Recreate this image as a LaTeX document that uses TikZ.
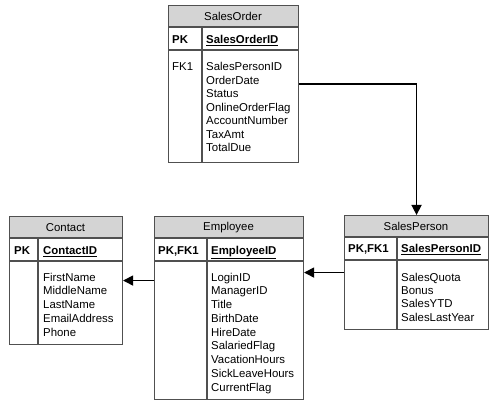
\documentclass[tikz,border=0pt]{standalone}
\usepackage{fontspec}
\setmainfont{Liberation Sans}
\usetikzlibrary{arrows.meta}
\definecolor{bordergray}{RGB}{80,80,80}
\definecolor{hdrgray}{RGB}{212,212,212}
\tikzset{
  box/.style={draw=bordergray, line width=1.1pt, rectangle, inner sep=0pt},
  hdrfill/.style={fill=hdrgray},
  rule/.style={draw=bordergray, line width=1.1pt},
  title/.style={inner sep=0pt, font=\fontsize{11.4}{13.6}\selectfont},
  txt/.style={inner sep=0pt, anchor=base west, font=\fontsize{11.4}{13.6}\selectfont},
  btxt/.style={inner sep=0pt, anchor=base west, font=\fontsize{11.4}{13.6}\selectfont\bfseries},
  conn/.style={draw=black, line width=1.5pt, -{Triangle[length=10pt,width=10pt]}}
}
\begin{document}
\begin{tikzpicture}[x=1pt,y=-1pt]
\useasboundingbox (0,0) rectangle (496,401);
% ---------- SalesOrder ----------
\fill[hdrfill] (168,5) rectangle (298,27);
\node[box, minimum width=130pt, minimum height=157pt, anchor=north west] (so) at (168,5) {};
\draw[rule] (168,27) -- (298,27);
\draw[rule] (168,50) -- (298,50);
\draw[rule] (202,27) -- (202,162);
\node[title] (soh) at (233,16) {SalesOrder};
\node[btxt] (sopk) at (172,43.5) {PK};
\node[btxt] (soid) at (206,43.5) {\underline{SalesOrderID}};
\node[txt] (sofk) at (172,71) {FK1};
\foreach \t [count=\i from 0] in {SalesPersonID,OrderDate,Status,OnlineOrderFlag,AccountNumber,TaxAmt,TotalDue}
  \node[txt] (so\i) at (206,71+13.5*\i) {\t};
% ---------- Contact ----------
\fill[hdrfill] (9,216) rectangle (122,238);
\node[box, minimum width=113pt, minimum height=128pt, anchor=north west] (ct) at (9,216) {};
\draw[rule] (9,238) -- (122,238);
\draw[rule] (9,261) -- (122,261);
\draw[rule] (38,238) -- (38,344);
\node[title] (cth) at (65.5,227.5) {Contact};
\node[btxt] (ctpk) at (14,254.5) {PK};
\node[btxt] (ctid) at (43,254.5) {\underline{ContactID}};
\foreach \t [count=\i from 0] in {FirstName,MiddleName,LastName,EmailAddress,Phone}
  \node[txt] (ct\i) at (43,281+13.8*\i) {\t};
% ---------- Employee ----------
\fill[hdrfill] (154,216) rectangle (303,238);
\node[box, minimum width=149pt, minimum height=183pt, anchor=north west] (emp) at (154,216) {};
\draw[rule] (154,238) -- (303,238);
\draw[rule] (154,261) -- (303,261);
\draw[rule] (207,238) -- (207,399);
\node[title] (emph) at (228.5,227.5) {Employee};
\node[btxt] (emppk) at (158,254.5) {PK,FK1};
\node[btxt] (empid) at (211,254.5) {\underline{EmployeeID}};
\foreach \t [count=\i from 0] in {LoginID,ManagerID,Title,BirthDate,HireDate,SalariedFlag,VacationHours,SickLeaveHours,CurrentFlag}
  \node[txt] (emp\i) at (211,281+13.75*\i) {\t};
% ---------- SalesPerson ----------
\fill[hdrfill] (344,215) rectangle (488,237);
\node[box, minimum width=144pt, minimum height=114pt, anchor=north west] (sp) at (344,215) {};
\draw[rule] (344,237) -- (488,237);
\draw[rule] (344,260) -- (488,260);
\draw[rule] (397,237) -- (397,329);
\node[title] (sph) at (416,226) {SalesPerson};
\node[btxt] (sppk) at (348,252.5) {PK,FK1};
\node[btxt] (spid) at (401,252.5) {\underline{SalesPersonID}};
\foreach \t [count=\i from 0] in {SalesQuota,Bonus,SalesYTD,SalesLastYear}
  \node[txt] (sp\i) at (401,281+13.4*\i) {\t};
% ---------- connectors ----------
\draw[conn] (so.east) -| (sp.north);
\draw[conn] (sp.west) -- (sp.west -| emp.east);
\draw[conn] (ct.east -| emp.west) -- (ct.east);
\end{tikzpicture}
\end{document}
